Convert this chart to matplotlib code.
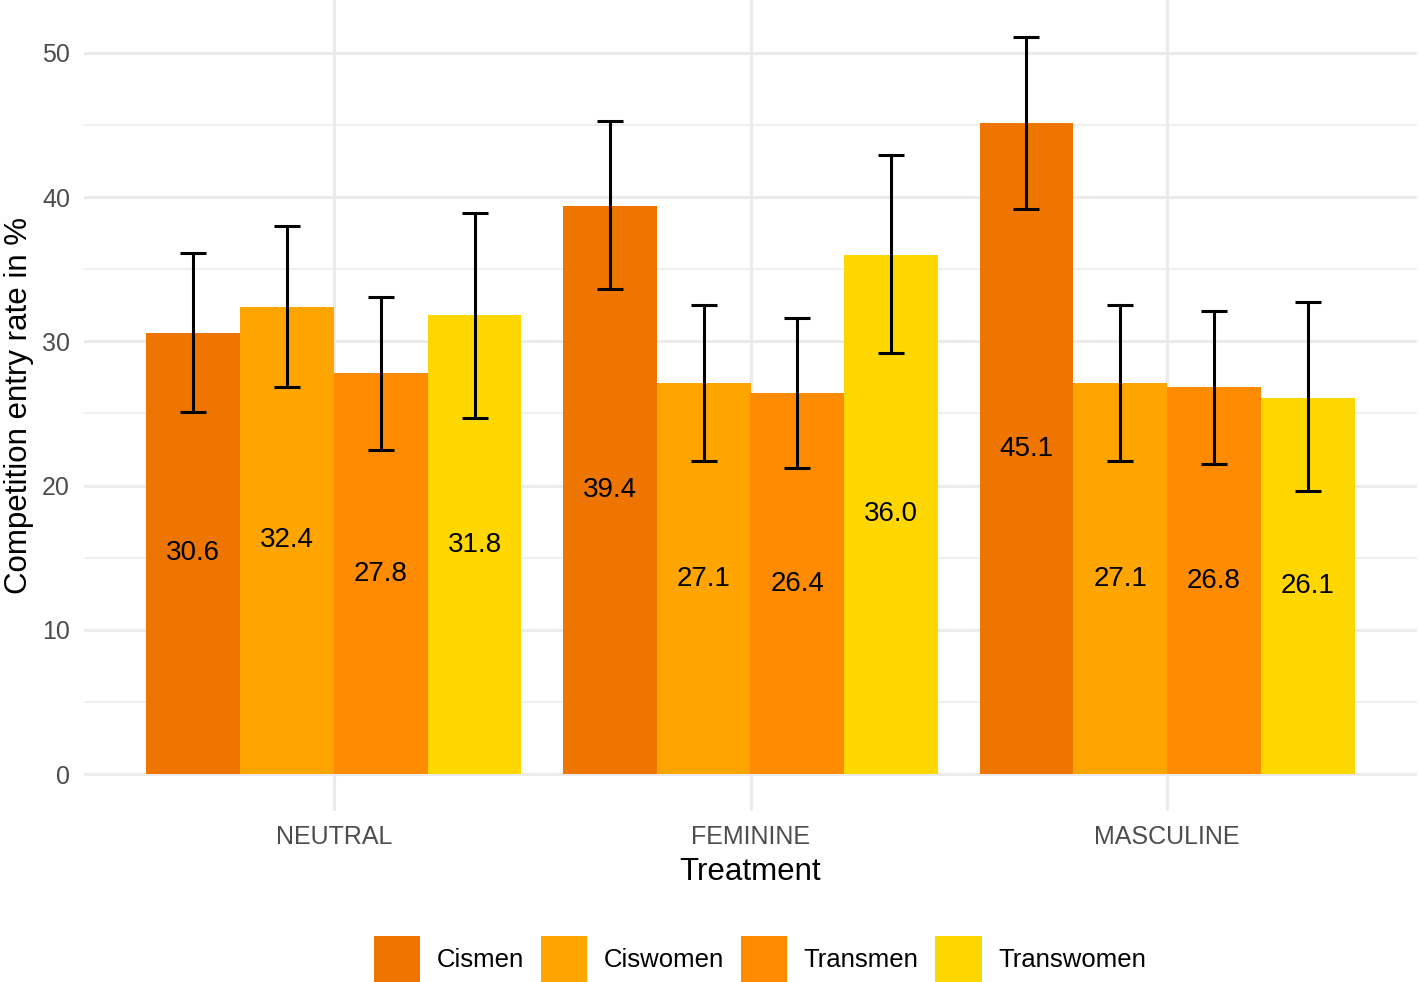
import numpy as np
import matplotlib.pyplot as plt
from matplotlib.patches import Patch

plt.rcParams['font.family'] = ['Liberation Sans', 'DejaVu Sans']

treatments = ["NEUTRAL", "FEMININE", "MASCULINE"]
groups = ["Cismen", "Ciswomen", "Transmen", "Transwomen"]
colors = ["#EE7600", "#FFA500", "#FF8C00", "#FFD700"]

# rate per group, one entry per treatment
rates = {
    "Cismen":     [30.6, 39.4, 45.1],
    "Ciswomen":   [32.4, 27.1, 27.1],
    "Transmen":   [27.8, 26.4, 26.8],
    "Transwomen": [31.8, 36.0, 26.1],
}
ci_low = {
    "Cismen":     [25.1, 33.6, 39.2],
    "Ciswomen":   [26.8, 21.7, 21.7],
    "Transmen":   [22.5, 21.2, 21.5],
    "Transwomen": [24.7, 29.2, 19.6],
}
ci_high = {
    "Cismen":     [36.1, 45.3, 51.1],
    "Ciswomen":   [38.0, 32.5, 32.5],
    "Transmen":   [33.1, 31.6, 32.1],
    "Transwomen": [38.9, 42.9, 32.7],
}

fig = plt.figure(figsize=(14.19, 9.82), dpi=100)
ax = fig.add_axes([84 / 1419, 171 / 982, 1333 / 1419, 811 / 982])

x = np.arange(1, len(treatments) + 1)
width = 0.9 / len(groups)

# grid first, ggplot minimal style
for yv in np.arange(0, 55, 10):
    ax.axhline(yv, color="#EBEBEB", lw=2.2, zorder=0)
for yv in np.arange(5, 55, 10):
    ax.axhline(yv, color="#EBEBEB", lw=1.1, zorder=0)
for xv in x:
    ax.axvline(xv, color="#EBEBEB", lw=2.2, zorder=0)

for i, g in enumerate(groups):
    xpos = x - 0.45 + width * (i + 0.5)
    vals = np.array(rates[g])
    ax.bar(xpos, vals, width=width, color=colors[i], zorder=2)
    lo = vals - np.array(ci_low[g])
    hi = np.array(ci_high[g]) - vals
    ax.errorbar(xpos, vals, yerr=[lo, hi], fmt="none", ecolor="black",
                elinewidth=2.2, capsize=9.5, capthick=2.2, zorder=3)
    for xp, v in zip(xpos, vals):
        ax.text(xp, v / 2, "{:.1f}".format(v), ha="center", va="center",
                fontsize=20, color="black", zorder=4)

ax.set_xlim(0.4, 3.6)
ax.set_ylim(-2.555, 53.655)
ax.set_yticks([0, 10, 20, 30, 40, 50])
ax.set_xticks(x)
ax.set_xticklabels(treatments)
ax.tick_params(axis="both", length=0, labelsize=18, labelcolor="#4D4D4D")
ax.tick_params(axis="x", pad=10)
ax.tick_params(axis="y", pad=10)
for s in ax.spines.values():
    s.set_visible(False)

ax.set_xlabel("Treatment", fontsize=22.5, labelpad=6)
ax.set_ylabel("Competition entry rate in %", fontsize=22.5, labelpad=6)

handles = [Patch(facecolor=c, edgecolor="none") for c in colors]
fig.legend(handles, groups, loc="center", bbox_to_anchor=(760 / 1419, 1 - 959 / 982),
           ncol=4, frameon=False, fontsize=18.5, handlelength=1.8, handleheight=2.37,
           handletextpad=0.65, columnspacing=0.65)

fig.savefig("out.png", dpi=100)
